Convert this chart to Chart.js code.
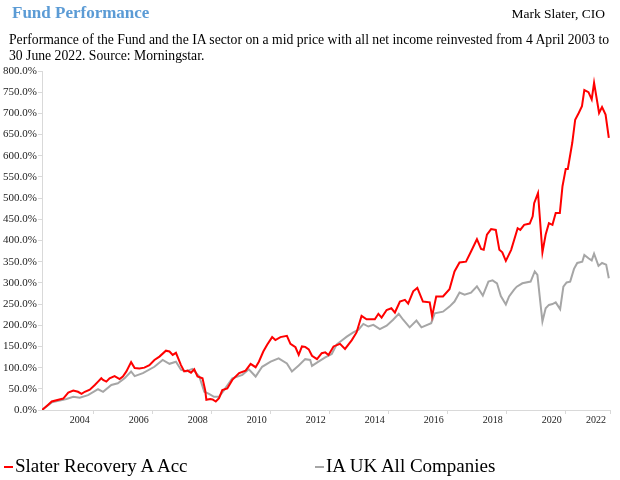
<!DOCTYPE html>
<html>
<head>
<meta charset="utf-8">
<script src="https://cdn.jsdelivr.net/npm/chart.js@4/dist/chart.umd.min.js"></script>
<style>
  body { margin: 0; background: #fff; }
  #wrap { position: relative; width: 620px; height: 480px; font-family: "Liberation Serif", "Times New Roman", serif; color: #000; }
  #wrap canvas { position: absolute; left: 0; top: 0; }
  .txt { position: absolute; white-space: nowrap; }
  #titulo { left: 12px; top: 3px; font-size: 17px; line-height: 20px; font-weight: bold; color: #5b9bd5; }
  #autor { right: 15px; top: 5px; font-size: 13.5px; line-height: 18px; }
  #sub { left: 9px; top: 32px; font-size: 13.7px; line-height: 16px; }
  .leg { position: absolute; top: 455px; font-size: 19px; line-height: 22px; white-space: nowrap; }
  .leg i { display: inline-block; width: 9px; height: 2px; vertical-align: middle; margin-right: 2px; position: relative; top: -1px; }
</style>
</head>
<body>
<div id="wrap">
  <canvas id="fundo" width="620" height="480"></canvas>
  <div class="txt" id="titulo">Fund Performance</div>
  <div class="txt" id="autor">Mark Slater, CIO</div>
  <div class="txt" id="sub">Performance of the Fund and the IA sector on a mid price with all net income reinvested from 4 April 2003 to<br>30 June 2022. Source: Morningstar.</div>
</div>
<script>
var seriesNames = ['Slater Recovery A Acc', 'IA UK All Companies'];
var seriesColors = ['#ff0000', '#a6a6a6'];

// years (decimal) and cumulative % for the fund
var fundYears = [2003.25, 2003.45, 2003.58, 2003.97, 2004.14, 2004.31, 2004.47, 2004.59, 2004.70, 2004.87,
  2005.04, 2005.15, 2005.26, 2005.32, 2005.43, 2005.54, 2005.71, 2005.88, 2005.99, 2006.11,
  2006.27, 2006.39, 2006.55, 2006.72, 2006.89, 2007.06, 2007.23, 2007.45, 2007.57, 2007.68,
  2007.79, 2007.96, 2008.07, 2008.18, 2008.30, 2008.41, 2008.52, 2008.69, 2008.78, 2008.82,
  2008.95, 2009.03, 2009.14, 2009.25, 2009.36, 2009.53, 2009.70, 2009.93, 2010.15, 2010.32,
  2010.49, 2010.60, 2010.75, 2010.88, 2011.05, 2011.16, 2011.33, 2011.55, 2011.67, 2011.84,
  2011.95, 2012.06, 2012.17, 2012.29, 2012.40, 2012.57, 2012.73, 2012.85, 2012.96, 2013.13,
  2013.35, 2013.52, 2013.75, 2013.91, 2014.08, 2014.25, 2014.53, 2014.65, 2014.76, 2014.93,
  2015.09, 2015.21, 2015.38, 2015.55, 2015.66, 2015.83, 2015.97, 2016.16, 2016.39, 2016.47,
  2016.61, 2016.84, 2017.06, 2017.23, 2017.40, 2017.62, 2017.79, 2017.99, 2018.13, 2018.22,
  2018.33, 2018.47, 2018.63, 2018.75, 2018.85, 2018.97, 2019.15, 2019.37, 2019.46, 2019.59,
  2019.78, 2019.88, 2019.93, 2020.06, 2020.21, 2020.32, 2020.43, 2020.55, 2020.66, 2020.80,
  2020.89, 2021.00, 2021.07, 2021.22, 2021.32, 2021.44, 2021.55, 2021.63, 2021.77, 2021.88,
  2021.96, 2022.13, 2022.23, 2022.35, 2022.46];
var fundValues = [0, 12, 20, 27, 41, 46, 43, 38, 43, 48,
  59, 67, 75, 71, 67, 75, 80, 73, 79, 91,
  113, 99, 98, 100, 106, 118, 126, 140, 138, 130,
  135, 106, 91, 93, 88, 96, 79, 75, 47, 24,
  26, 25, 20, 28, 47, 51, 71, 87, 93, 109,
  101, 114, 138, 154, 172, 165, 172, 175, 156, 148,
  130, 150, 149, 143, 128, 120, 134, 136, 130, 150,
  156, 144, 165, 183, 222, 214, 214, 227, 218, 236,
  240, 230, 256, 260, 251, 280, 288, 256, 254, 221,
  268, 268, 285, 327, 348, 350, 374, 403, 380, 378,
  414, 427, 425, 378, 372, 352, 378, 429, 425, 437,
  440, 457, 488, 512, 372, 414, 441, 437, 465, 465,
  528, 569, 569, 630, 685, 701, 717, 755, 750, 733,
  772, 701, 715, 697, 642];

// years (decimal) and cumulative % for the sector
var sectorYears = [2003.25, 2003.58, 2004.08, 2004.31, 2004.53, 2004.81, 2005.15, 2005.32, 2005.60, 2005.82,
  2006.05, 2006.27, 2006.39, 2006.67, 2007.06, 2007.34, 2007.57, 2007.79, 2007.96, 2008.13,
  2008.35, 2008.58, 2008.75, 2008.91, 2009.08, 2009.25, 2009.42, 2009.70, 2010.04, 2010.26,
  2010.49, 2010.71, 2011.00, 2011.27, 2011.55, 2011.72, 2011.95, 2012.17, 2012.34, 2012.40,
  2012.62, 2012.85, 2013.07, 2013.24, 2013.41, 2013.58, 2013.80, 2013.97, 2014.14, 2014.31,
  2014.48, 2014.70, 2014.93, 2015.15, 2015.34, 2015.49, 2015.71, 2015.94, 2016.11, 2016.44,
  2016.56, 2016.84, 2017.06, 2017.23, 2017.40, 2017.57, 2017.79, 2017.99, 2018.19, 2018.38,
  2018.52, 2018.67, 2018.80, 2018.97, 2019.08, 2019.25, 2019.34, 2019.53, 2019.81, 2019.95,
  2020.04, 2020.13, 2020.21, 2020.32, 2020.43, 2020.55, 2020.66, 2020.81, 2020.92, 2021.03,
  2021.15, 2021.28, 2021.39, 2021.56, 2021.63, 2021.77, 2021.88, 2021.96, 2022.11, 2022.23,
  2022.37, 2022.46];
var sectorValues = [0, 18, 26, 31, 29, 35, 49, 43, 59, 63,
  75, 91, 80, 87, 102, 118, 109, 114, 95, 91,
  97, 79, 43, 38, 31, 31, 47, 75, 83, 96,
  79, 102, 114, 122, 110, 91, 105, 120, 118, 104,
  114, 124, 132, 155, 164, 173, 183, 189, 203, 197,
  201, 191, 199, 213, 227, 213, 195, 211, 195, 205,
  228, 232, 244, 256, 277, 272, 277, 292, 270, 303,
  306, 299, 269, 249, 268, 284, 291, 299, 303, 327,
  319, 260, 209, 240, 248, 250, 254, 238, 291, 301,
  303, 333, 347, 350, 366, 358, 353, 369, 340, 347,
  343, 311];

var xTickLabels = ['2004', '2006', '2008', '2010', '2012', '2014', '2016', '2018', '2020', '2022'];
var xMin = 2003.25, xMax = 2022.5;

function pontos(anos, valores) {
  return anos.map(function (a, i) { return { x: a, y: valores[i] }; });
}

// tick marks sit on odd years, labels are pulled back toward the even year
function posTicks() {
  return xTickLabels.map(function (l, i) {
    return i == xTickLabels.length - 1 ? xMax : Number(l) + 1;
  });
}

var grafico = new Chart(document.getElementById('fundo'), {
  type: 'line',
  data: {
    datasets: [{
      label: seriesNames[0],
      data: pontos(fundYears, fundValues),
      borderColor: seriesColors[0],
      borderWidth: 2,
      pointRadius: 0,
      fill: false
    }, {
      label: seriesNames[1],
      data: pontos(sectorYears, sectorValues),
      borderColor: seriesColors[1],
      borderWidth: 2,
      pointRadius: 0,
      fill: false
    }]
  },
  options: {
    responsive: false,
    animation: false,
    layout: { padding: { left: 0, right: 7, top: 71, bottom: 0 } },
    plugins: { legend: { display: false }, tooltip: { enabled: false } },
    scales: {
      x: {
        type: 'linear',
        min: xMin,
        max: xMax,
        afterBuildTicks: function (scale) {
          scale.ticks = posTicks().map(function (v) { return { value: v }; });
        },
        afterFit: function (scale) { scale.height = 70; },
        border: { color: '#d9d9d9' },
        grid: { drawOnChartArea: false, color: '#d9d9d9', tickLength: 4 },
        ticks: {
          autoSkip: false,
          maxRotation: 0,
          padding: 0,
          labelOffset: -14,
          color: '#222',
          font: { family: 'Liberation Serif', size: 10 },
          callback: function (v, i) { return xTickLabels[i]; }
        }
      },
      y: {
        min: 0,
        max: 800,
        afterFit: function (scale) { scale.width = 42; },
        border: { color: '#d9d9d9' },
        grid: { drawOnChartArea: false, color: '#d9d9d9', tickLength: 4 },
        ticks: {
          stepSize: 50,
          padding: 1,
          color: '#222',
          font: { family: 'Liberation Serif', size: 11 },
          callback: function (v) { return v.toFixed(1) + '%'; }
        }
      }
    }
  }
});

// legend underneath, built from the datasets
var legX = [4, 315];
grafico.data.datasets.forEach(function (ds, i) {
  var d = document.createElement('div');
  d.className = 'leg';
  d.style.left = legX[i] + 'px';
  d.innerHTML = '<i style="background:' + ds.borderColor + '"></i>' + ds.label;
  document.getElementById('wrap').appendChild(d);
});
</script>
</body>
</html>
